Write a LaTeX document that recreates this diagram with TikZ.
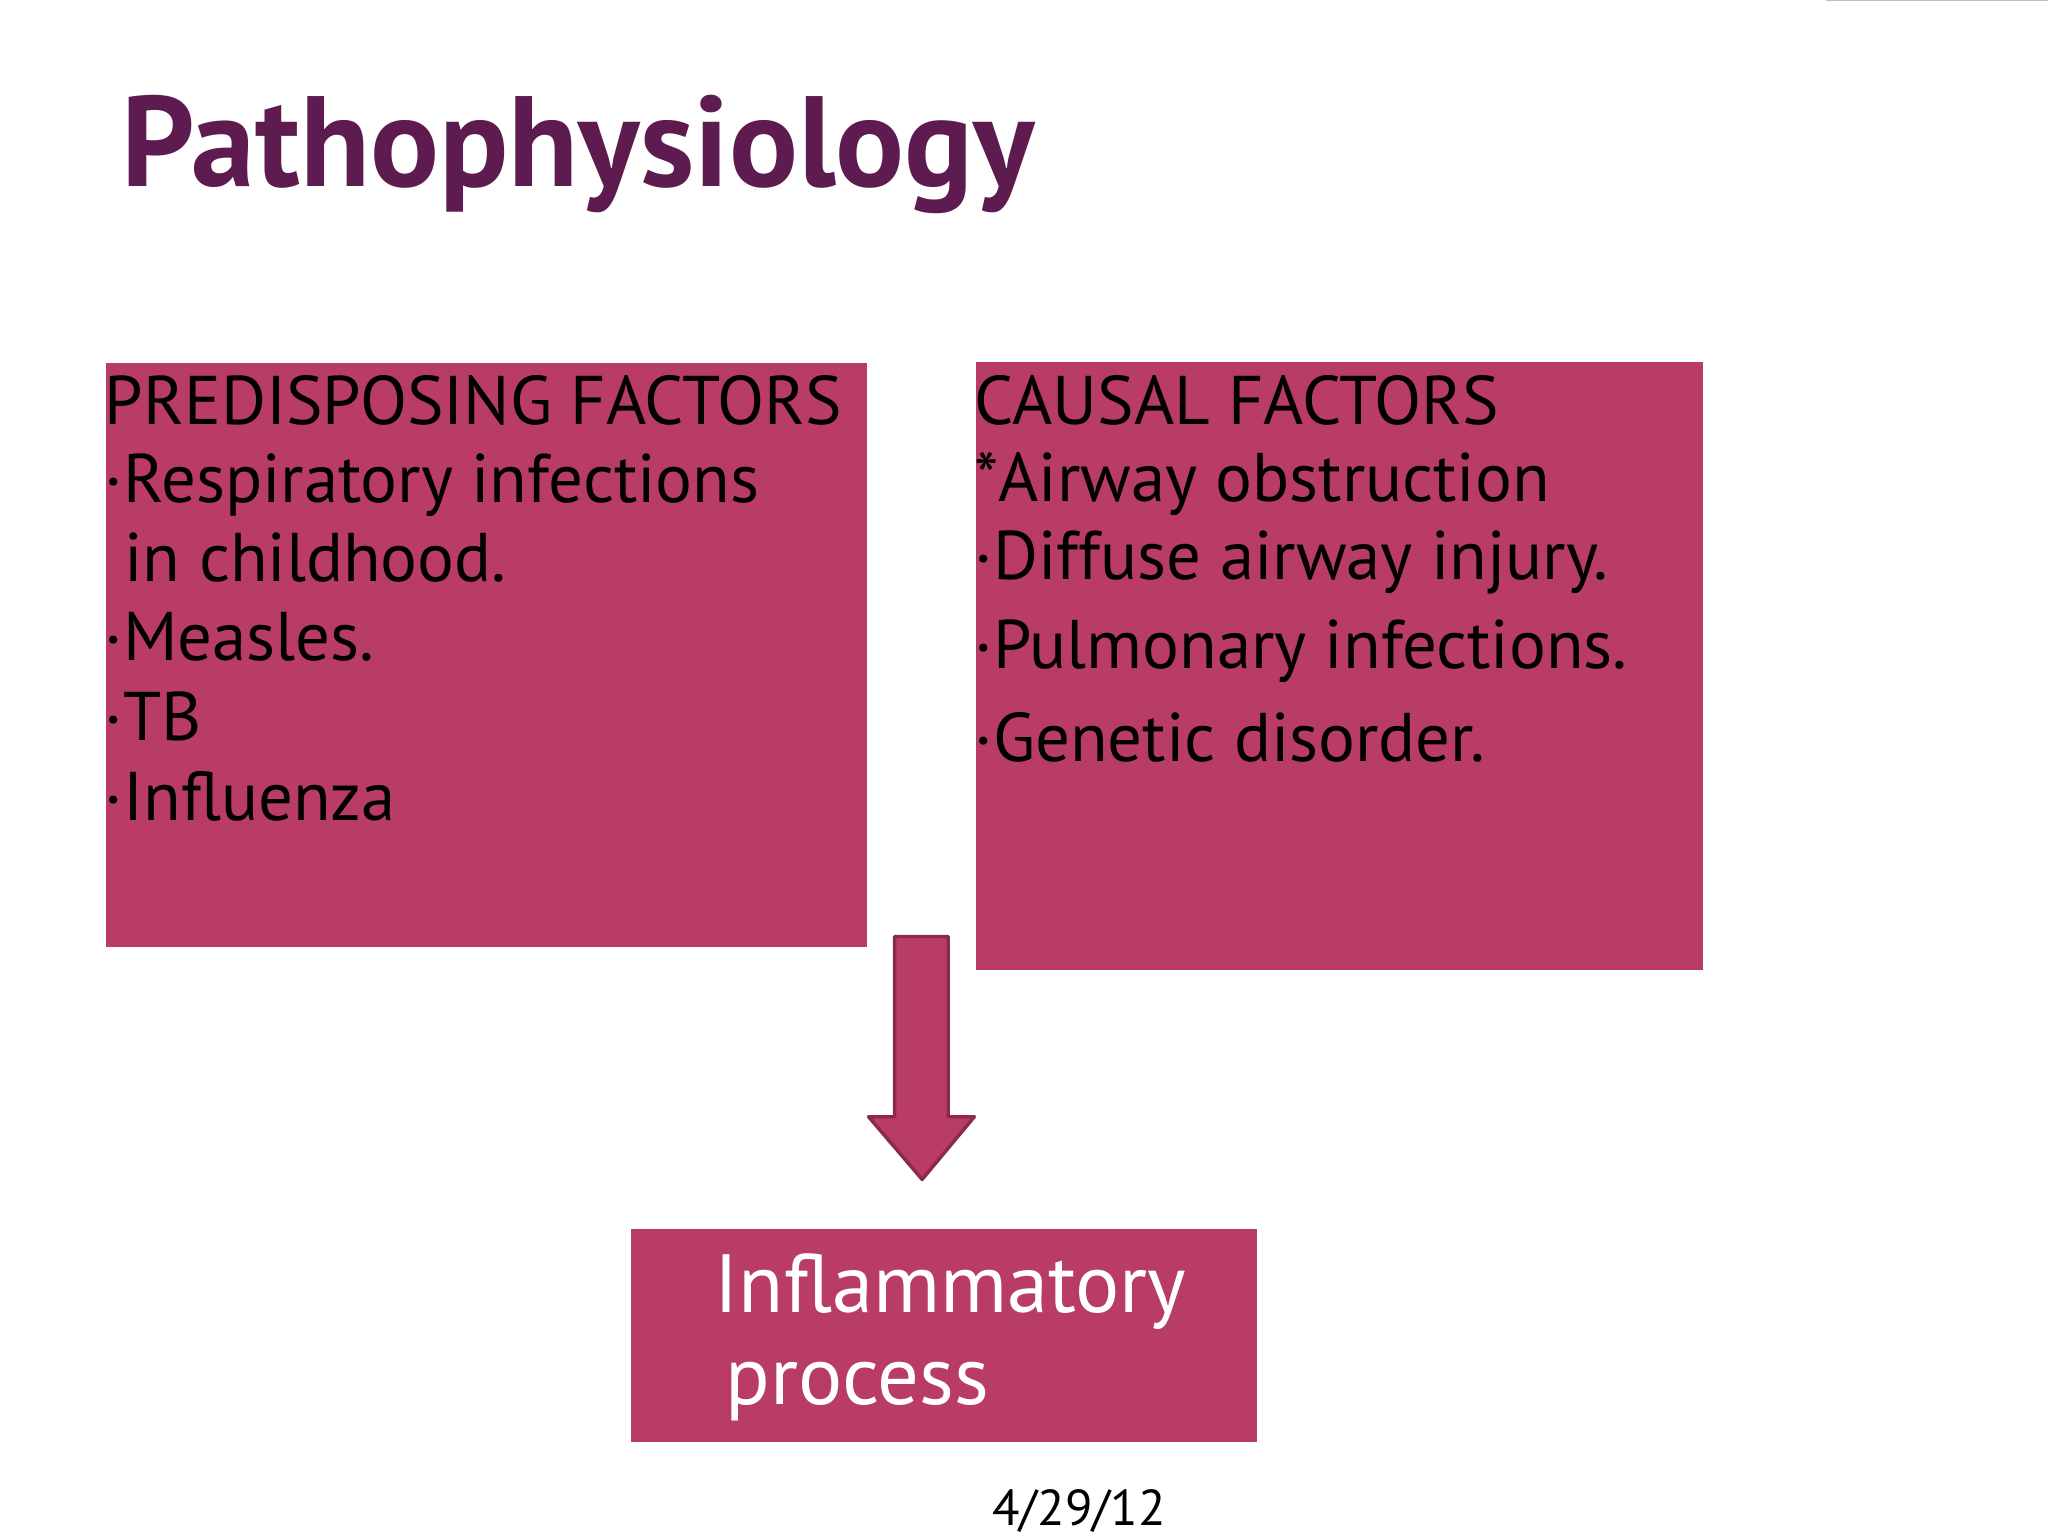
\documentclass[tikz,border=0pt]{standalone}
\usepackage{fontspec}
\setmainfont{PT Sans}
\begin{document}
\begin{tikzpicture}[x=0.02cm,y=-0.02cm,
  boxc/.style={fill=boxpink,draw=none},
  ln/.style={anchor=base west,inner sep=0pt,font=\fontsize{30}{30}\selectfont},
  wl/.style={anchor=base west,inner sep=0pt,text=white,font=\fontsize{36}{36}\selectfont}]
\definecolor{boxpink}{HTML}{B83C66}
\definecolor{arrowedge}{HTML}{8A2A4C}
\definecolor{titlec}{HTML}{5E1B4F}
\useasboundingbox (0,0) rectangle (1568,1176);
\fill[white] (0,0) rectangle (1568,1176);
\draw[gray!50,line width=1pt] (1398,0) -- (1568,0);
\node[anchor=base west,inner sep=0pt,text=titlec,font=\fontsize{56}{56}\selectfont\bfseries] (title) at (93,143) {Pathophysiology};
\fill[boxc] (81,278) rectangle (664,725);
\fill[boxc] (747,277) rectangle (1304,743);
\fill[boxc] (483,941) rectangle (962,1104);
\node[ln] (l1) at (80,325) {PREDISPOSING FACTORS};
\node[ln] (l2) at (80,385) {·Respiratory infections};
\node[ln] (l3) at (95,445) {in childhood.};
\node[ln] (l4) at (80,506) {·Measles.};
\node[ln] (l5) at (80,567) {·TB};
\node[ln] (l6) at (80,628) {·Influenza};
\node[ln] (r1) at (746,325) {CAUSAL FACTORS};
\node[ln] (r2) at (746,384) {*Airway obstruction};
\node[ln] (r3) at (746,444) {·Diffuse airway injury.};
\node[ln] (r4) at (746,512) {·Pulmonary infections.};
\node[ln] (r5) at (746,583) {·Genetic disorder.};
\node[wl] (i1) at (547,1005) {Inflammatory};
\node[wl] (i2) at (555,1075) {process};
\draw[fill=boxpink,draw=arrowedge,line width=1.5pt,line join=round]
  (685,717) -- (726,717) -- (726,855) -- (746,855) -- (706,903) -- (665,855) -- (685,855) -- cycle;
\node[anchor=base,inner sep=0pt,font=\fontsize{22}{22}\selectfont] (date) at (826,1168) {4/29/12};
\end{tikzpicture}
\end{document}
